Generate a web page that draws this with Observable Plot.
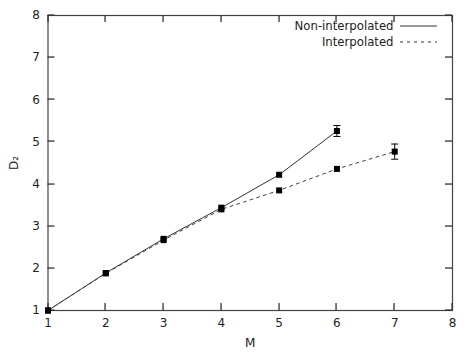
<!DOCTYPE html>
<html>
<head>
<meta charset="utf-8">
<script src="https://cdn.jsdelivr.net/npm/d3@7"></script>
<script src="https://cdn.jsdelivr.net/npm/@observablehq/plot@0.6"></script>
<style>
  body { margin: 0; background: white; overflow: hidden; }
  #chart svg { display: block; }
</style>
</head>
<body>
<div id="chart"></div>
<script>
// ---- data ----
const M = [1, 2, 3, 4, 5, 6, 7];
const nonInterpolated = [1, 1.89, 2.70, 3.44, 4.22, 5.26];
const nonInterpolatedErr = [0, 0.02, 0.03, 0.04, 0.04, 0.13];
const interpolated = [1, 1.88, 2.67, 3.40, 3.85, 4.36, 4.77];
const interpolatedErr = [0, 0.02, 0.02, 0.02, 0.02, 0.03, 0.18];
const xTicks = [1, 2, 3, 4, 5, 6, 7, 8];
const yTicks = [1, 2, 3, 4, 5, 6, 7, 8];
const seriesNames = ["Non-interpolated", "Interpolated"];

const nonData = nonInterpolated.map((v, i) => ({m: M[i], d: v, e: nonInterpolatedErr[i]}));
const intData = interpolated.map((v, i) => ({m: M[i], d: v, e: interpolatedErr[i]}));

const W = 474, H = 355, ML = 47.5, MR = 22, MT = 15, MB = 45, TICK = 7;

const capSymbol = {
  draw(ctx, size) {
    const w = Math.sqrt(size) / 2;
    ctx.moveTo(-w, 0);
    ctx.lineTo(w, 0);
  }
};

function errorMarks(data) {
  return [
    Plot.ruleX(data.filter(d => d.e > 0), {x: "m", y1: d => d.d - d.e, y2: d => d.d + d.e, stroke: "#000", strokeWidth: 1}),
    Plot.dot(data.filter(d => d.e > 0.05), {x: "m", y: d => d.d + d.e, symbol: capSymbol, r: 4, stroke: "#000", strokeWidth: 1}),
    Plot.dot(data.filter(d => d.e > 0.05), {x: "m", y: d => d.d - d.e, symbol: capSymbol, r: 4, stroke: "#000", strokeWidth: 1})
  ];
}

// inward tick marks: short segments drawn as Plot.link marks in pixel space via render
const svgNS = "http://www.w3.org/2000/svg";
function inwardTicks(index, scales, values, dims) {
  const g = document.createElementNS(svgNS, "g");
  const left = dims.marginLeft, right = dims.width - dims.marginRight;
  const top = dims.marginTop, bottom = dims.height - dims.marginBottom;
  const add = (x, y, w, h) => {
    const r = document.createElementNS(svgNS, "rect");
    r.setAttribute("x", x); r.setAttribute("y", y);
    r.setAttribute("width", w); r.setAttribute("height", h);
    r.setAttribute("fill", "#333");
    r.setAttribute("stroke", "none");
    g.appendChild(r);
  };
  for (const t of xTicks) {
    const x = Math.round(scales.x(t));
    add(x - 0.6, bottom - TICK, 1.3, TICK);
    add(x - 0.6, top, 1.3, TICK);
  }
  for (const t of yTicks) {
    const y = Math.round(scales.y(t));
    add(left, y - 0.6, TICK, 1.3);
    add(right - TICK, y - 0.6, TICK, 1.3);
  }
  return g;
}

function legendLine(dyPx, dash) {
  return (index, scales, values, dims) => {
    const xr = dims.width - dims.marginRight;
    const y = dims.marginTop + dyPx;
    const p = document.createElementNS(svgNS, "path");
    p.setAttribute("d", `M${xr - 52},${y}H${xr - 15}`);
    p.setAttribute("fill", "none");
    p.setAttribute("stroke", "#333");
    p.setAttribute("stroke-width", 1);
    if (dash) p.setAttribute("stroke-dasharray", dash);
    return p;
  };
}

const fmt = d => String(d);

const chart = Plot.plot({
  width: W,
  height: H,
  marginLeft: ML,
  marginRight: MR,
  marginTop: MT,
  marginBottom: MB,
  style: {fontFamily: "DejaVu Sans", fontSize: "12px", color: "#222", background: "white"},
  x: {domain: [1, 8]},
  y: {domain: [1, 8]},
  marks: [
    Plot.axisX({anchor: "bottom", ticks: xTicks, tickSize: 0, tickPadding: 8, tickFormat: fmt, label: "M", labelAnchor: "center", labelArrow: "none", labelOffset: 36}),
    Plot.axisY({anchor: "left", ticks: yTicks, tickSize: 0, tickPadding: 8, tickFormat: fmt, label: "D₂", labelAnchor: "center", labelArrow: "none", labelOffset: 39}),
    Plot.frame({stroke: "#444", strokeWidth: 1.2}),
    inwardTicks,
    // series
    Plot.line(nonData, {x: "m", y: "d", stroke: "#333", strokeWidth: 1}),
    Plot.line(intData, {x: "m", y: "d", stroke: "#444", strokeWidth: 1, strokeDasharray: "3,4"}),
    ...errorMarks(nonData),
    ...errorMarks(intData),
    Plot.dot(nonData, {x: "m", y: "d", symbol: "square", r: 3.4, fill: "#000"}),
    Plot.dot(intData, {x: "m", y: "d", symbol: "square", r: 3.4, fill: "#000"}),
    // legend
    Plot.text([seriesNames[0]], {text: d => d, frameAnchor: "top-right", dx: -59, dy: 11, textAnchor: "end", lineAnchor: "middle", fill: "#222", fontSize: 11.7}),
    Plot.text([seriesNames[1]], {text: d => d, frameAnchor: "top-right", dx: -59, dy: 27, textAnchor: "end", lineAnchor: "middle", fill: "#222", fontSize: 11.7}),
    legendLine(11, null),
    legendLine(27, "3,4")
  ]
});
document.getElementById("chart").appendChild(chart);
</script>
</body>
</html>
